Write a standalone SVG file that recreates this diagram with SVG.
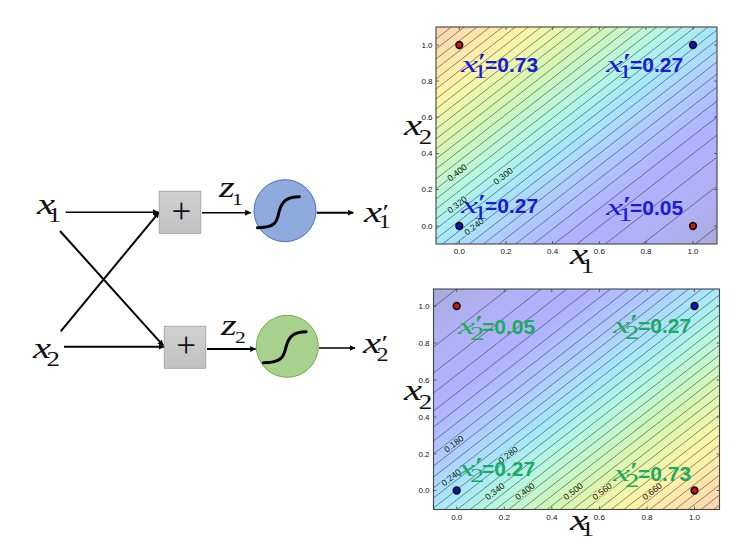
<svg xmlns="http://www.w3.org/2000/svg" xmlns:xlink="http://www.w3.org/1999/xlink" width="730" height="540" viewBox="0 0 730 540">
<style>
text{font-family:"Liberation Sans",Arial,sans-serif}
.m{font-family:"Liberation Serif","Times New Roman",serif;font-style:italic;font-size:30px;fill:#111}
.m .s{font-style:normal;font-size:20px}
.m .sz{font-style:normal;font-size:16px}
.m .sp{font-style:normal;font-size:18px}
.m .p{font-size:22px}
.q{font-family:"Liberation Serif","Times New Roman",serif;font-style:italic;font-size:24px}
.q .s{font-style:normal;font-size:18px}
.v{font-weight:700;font-size:21px}
.bl{fill:#1a1ad8}
.gr{fill:#1cab5e}
.t{font-size:8px;fill:#111;text-anchor:middle}
.cl{font-size:8.8px;fill:#111;text-anchor:middle;stroke-width:2.5px;paint-order:stroke;stroke-linejoin:round}
.frame{fill:none;stroke:#444;stroke-width:1.1}
.tick{fill:none;stroke:#444;stroke-width:.8}
.contour{fill:none;stroke:#222;stroke-width:.6;stroke-opacity:.85}
.red{fill:#e01010;stroke:#111;stroke-width:1.7}
.blue{fill:#1010d8;stroke:#111;stroke-width:1.7}
.box{fill:url(#gb);stroke:#a8a8a8;stroke-width:1}
.plus{font-family:"Liberation Serif",serif;font-size:35px;text-anchor:middle;fill:#111}
.sig{fill:none;stroke:#000;stroke-width:3;stroke-linecap:round}
.arr{fill:none;stroke:#000;stroke-width:2;marker-end:url(#ah)}
.thin{stroke-width:1.5}
</style>
<defs>
<marker id="ah" viewBox="0 0 6 6" refX="5.5" refY="3" markerWidth="6" markerHeight="6" markerUnits="userSpaceOnUse" orient="auto"><path d="M0,0L6,3L0,6z" fill="#000"/></marker>
<linearGradient id="gb" x1="0" y1="0" x2="0" y2="1"><stop offset="0" stop-color="#d0d0d0"/><stop offset="1" stop-color="#c2c2c2"/></linearGradient>
<linearGradient id="g1" gradientUnits="userSpaceOnUse" x1="436" y1="27" x2="647.4" y2="298">
<stop offset="0" stop-color="#fcd4b4"/><stop offset=".08" stop-color="#fde4ac"/><stop offset=".17" stop-color="#fbf6a8"/><stop offset=".29" stop-color="#d6f7b4"/><stop offset=".42" stop-color="#b4f6e4"/><stop offset=".5" stop-color="#a8e8fb"/><stop offset=".6" stop-color="#b0ccff"/><stop offset=".72" stop-color="#b0b2ff"/><stop offset=".9" stop-color="#b0b0f2"/><stop offset="1" stop-color="#aaaadc"/>
</linearGradient>
<linearGradient id="g2" xlink:href="#g1" href="#g1" gradientUnits="userSpaceOnUse" x1="648.6" y1="564.8" x2="433.5" y2="289"/>
<clipPath id="c1"><rect x="436" y="27" width="281" height="217"/></clipPath>
<clipPath id="c2"><rect x="433.5" y="289" width="286" height="220.5"/></clipPath>
</defs>

<g id="connectors">
<path class="arr thin" d="M65.7,212.3H158.5"/>
<path class="arr" d="M60.7,331.3L159,212.3"/>
<path class="arr" d="M60,231L163.3,345.7"/>
<path class="arr" d="M64,346.7H164"/>
<path class="arr thin" d="M202,212.7H250.7"/>
<path class="arr" d="M316.7,212.7H353.3"/>
<path class="arr" d="M207,349H255.7"/>
<path class="arr thin" d="M319,348H355"/>
</g>

<g id="input-x1"><text class="m" transform="translate(37,214) scale(1.35,1)">x<tspan class="s" x="8" y="8">1</tspan></text></g>
<g id="input-x2"><text class="m" transform="translate(33,358) scale(1.35,1)">x<tspan class="s" x="10" y="8">2</tspan></text></g>

<g id="sum-1"><rect class="box" x="159.3" y="191.3" width="41.4" height="42"/><text class="plus" x="181.3" y="223.3">+</text></g>
<g id="sum-2"><rect class="box" x="164.3" y="326.3" width="41.4" height="42"/><text class="plus" x="186" y="357.2">+</text></g>

<g id="label-z1"><text class="m" transform="translate(219,197) scale(1.35,1)">z<tspan class="sz" x="9.7" y="8">1</tspan></text></g>
<g id="label-z2"><text class="m" transform="translate(221,335) scale(1.35,1)">z<tspan class="sz" x="10.4" y="8">2</tspan></text></g>

<g id="sigmoid-1"><circle cx="285" cy="210.7" r="31" fill="#8faadc" stroke="#4472c4"/><path class="sig" d="M257.5,227.7C275,228 277,222 279,212C282,200 288,197 299.3,196.7"/></g>
<g id="sigmoid-2"><circle cx="287.3" cy="346.3" r="31" fill="#a9d18e" stroke="#70ad47"/><path class="sig" d="M263.5,362.7C281,363 284,357 286,347C289,335 295,332 306,331.7"/></g>

<g id="output-x1"><text class="m" transform="translate(364,222) scale(1.35,1)">x<tspan class="p" x="12.500" y="-3">′</tspan><tspan class="sp" x="10.700" y="6">1</tspan></text></g>
<g id="output-x2"><text class="m" transform="translate(363,353) scale(1.35,1)">x<tspan class="p" x="12.500" y="-3">′</tspan><tspan class="sp" x="10" y="8">2</tspan></text></g>

<g id="plot-top">
<rect x="436" y="27" width="281" height="217" fill="url(#g1)"/>
<path class="contour" clip-path="url(#c1)" d="M436,446l281,-219M436,405l281,-219M436,376l281,-219M436,354l281,-219M436,336l281,-219M436,320l281,-219M436,306l281,-219M436,293l281,-219M436,281l281,-219M436,270l281,-219M436,259l281,-219M436,249l281,-219M436,239l281,-219M436,229l281,-219M436,219l281,-219M436,209l281,-219M436,199l281,-219M436,189l281,-219M436,179l281,-219M436,169l281,-219M436,159l281,-219M436,149l281,-219M436,139l281,-219M436,129l281,-219M436,119l281,-219M436,109l281,-219M436,99l281,-219M436,89l281,-219M436,79l281,-219M436,69l281,-219M436,59l281,-219M436,49l281,-219M436,39l281,-219"/>
<rect class="frame" x="436" y="27" width="281" height="217"/>
<path class="tick" d="M459.3,244v-3M506,244v-3M552.6,244v-3M599.3,244v-3M646,244v-3M693,244v-3M459.3,27v3M506,27v3M552.6,27v3M599.3,27v3M646,27v3M693,27v3M436,45h3M436,81h3M436,117h3M436,153.500h3M436,189.500h3M436,226h3M717,45h-3M717,81h-3M717,117h-3M717,153.500h-3M717,189.500h-3M717,226h-3"/>
<g class="tl">
<text class="t" x="459.300" y="254">0.0</text><text class="t" x="506" y="254">0.2</text><text class="t" x="552.600" y="254">0.4</text><text class="t" x="599.300" y="254">0.6</text><text class="t" x="646" y="254">0.8</text><text class="t" x="693" y="254">1.0</text>
<text class="t" x="427" y="47.800">1.0</text><text class="t" x="427" y="83.800">0.8</text><text class="t" x="427" y="119.800">0.6</text><text class="t" x="427" y="156.300">0.4</text><text class="t" x="427" y="192.300">0.2</text><text class="t" x="427" y="228.800">0.0</text>
</g>
<text class="cl" stroke="#bcf5c8" transform="translate(459,175) rotate(-38)">0.400</text>
<text class="cl" stroke="#b0f5e8" transform="translate(505,178.500) rotate(-38)">0.300</text>
<text class="cl" stroke="#b0f5e8" transform="translate(459,207) rotate(-38)">0.320</text>
<text class="cl" stroke="#a8ecf2" transform="translate(476,229) rotate(-38)">0.240</text>
<circle class="red" cx="459.300" cy="45" r="3.300"/><circle class="blue" cx="693" cy="45" r="3.300"/><circle class="blue" cx="459.300" cy="226" r="3.300"/><circle class="red" cx="693" cy="226" r="3.300"/>
<text class="q bl" transform="translate(461,72) scale(1.6,1)">x<tspan x="9" y="-3">′</tspan><tspan class="s" x="7.500" y="6">1</tspan></text><text class="v bl" x="485" y="72">=0.73</text>
<text class="q bl" transform="translate(606,72) scale(1.6,1)">x<tspan x="9" y="-3">′</tspan><tspan class="s" x="7.500" y="6">1</tspan></text><text class="v bl" x="630" y="72">=0.27</text>
<text class="q bl" transform="translate(461,213) scale(1.6,1)">x<tspan x="9" y="-3">′</tspan><tspan class="s" x="7.500" y="6">1</tspan></text><text class="v bl" x="485" y="213">=0.27</text>
<text class="q bl" transform="translate(606,215) scale(1.6,1)">x<tspan x="9" y="-3">′</tspan><tspan class="s" x="7.500" y="6">1</tspan></text><text class="v bl" x="630" y="215">=0.05</text>
<text class="m" transform="translate(404,135) scale(1.35,1)">x<tspan class="s" x="11" y="9">2</tspan></text>
<text class="m" transform="translate(570,264) scale(1.35,1)">x<tspan class="s" x="8" y="9">1</tspan></text>
</g>

<g id="plot-bottom">
<rect x="433.500" y="289" width="286" height="220.500" fill="url(#g2)"/>
<path class="contour" clip-path="url(#c2)" d="M433.500,307l286,-223M433.500,347l286,-223M433.500,373l286,-223M433.500,393l286,-223M433.500,411l286,-223M433.500,427l286,-223M433.500,441l286,-223M433.500,454l286,-223M433.500,466l286,-223M433.500,477l286,-223M433.500,488l286,-223M433.500,498l286,-223M433.500,508l286,-223M433.500,518l286,-223M433.500,528l286,-223M433.500,538l286,-223M433.500,548l286,-223M433.500,558l286,-223M433.500,568l286,-223M433.500,578l286,-223M433.500,588l286,-223M433.500,598l286,-223M433.500,608l286,-223M433.500,618l286,-223M433.500,628l286,-223M433.500,638l286,-223M433.500,648l286,-223M433.500,658l286,-223M433.500,668l286,-223M433.500,678l286,-223M433.500,688l286,-223M433.500,698l286,-223M433.500,708l286,-223M433.500,718l286,-223M433.500,728l286,-223"/>
<rect class="frame" x="433.500" y="289" width="286" height="220.500"/>
<path class="tick" d="M456.700,509.500v-3M504.300,509.500v-3M551.800,509.500v-3M599.400,509.500v-3M647,509.500v-3M694.500,509.500v-3M456.700,289v3M504.300,289v3M551.800,289v3M599.400,289v3M647,289v3M694.500,289v3M433.500,306h3M433.500,343h3M433.500,380h3M433.500,417h3M433.500,454h3M433.500,490.500h3M719.500,306h-3M719.500,343h-3M719.500,380h-3M719.500,417h-3M719.500,454h-3M719.500,490.500h-3"/>
<g class="tl">
<text class="t" x="456.700" y="519.500">0.0</text><text class="t" x="504.300" y="519.500">0.2</text><text class="t" x="551.800" y="519.500">0.4</text><text class="t" x="599.400" y="519.500">0.6</text><text class="t" x="647" y="519.500">0.8</text><text class="t" x="694.500" y="519.500">1.0</text>
<text class="t" x="424" y="308.800">1.0</text><text class="t" x="424" y="345.800">0.8</text><text class="t" x="424" y="382.800">0.6</text><text class="t" x="424" y="419.800">0.4</text><text class="t" x="424" y="456.800">0.2</text><text class="t" x="424" y="493.300">0.0</text>
</g>
<text class="cl" stroke="#aed4ff" transform="translate(455.700,446.300) rotate(-38)">0.180</text>
<text class="cl" stroke="#a8e4fb" transform="translate(453,479.800) rotate(-38)">0.240</text>
<text class="cl" stroke="#acebf2" transform="translate(510,457.300) rotate(-38)">0.280</text>
<text class="cl" stroke="#b3f5e0" transform="translate(496.700,493.800) rotate(-38)">0.340</text>
<text class="cl" stroke="#bcf5c8" transform="translate(526.700,493.800) rotate(-38)">0.400</text>
<text class="cl" stroke="#d8f5b2" transform="translate(575,493.800) rotate(-38)">0.500</text>
<text class="cl" stroke="#eef6a9" transform="translate(604,493.800) rotate(-38)">0.560</text>
<text class="cl" stroke="#fde9a8" transform="translate(654,493.800) rotate(-38)">0.660</text>
<circle class="red" cx="456.700" cy="306" r="3.300"/><circle class="blue" cx="694.500" cy="306" r="3.300"/><circle class="blue" cx="456.700" cy="490.500" r="3.300"/><circle class="red" cx="694.500" cy="490.500" r="3.300"/>
<text class="q gr" transform="translate(458,334) scale(1.6,1)">x<tspan x="9" y="-3">′</tspan><tspan class="s" x="7.500" y="6">2</tspan></text><text class="v gr" x="482" y="334">=0.05</text>
<text class="q gr" transform="translate(613,333) scale(1.6,1)">x<tspan x="9" y="-3">′</tspan><tspan class="s" x="7.500" y="6">2</tspan></text><text class="v gr" x="638" y="333">=0.27</text>
<text class="q gr" transform="translate(458,476) scale(1.6,1)">x<tspan x="9" y="-3">′</tspan><tspan class="s" x="7.500" y="6">2</tspan></text><text class="v gr" x="482" y="476">=0.27</text>
<text class="q gr" transform="translate(613,481) scale(1.6,1)">x<tspan x="9" y="-3">′</tspan><tspan class="s" x="7.500" y="6">2</tspan></text><text class="v gr" x="638" y="481">=0.73</text>
<text class="m" transform="translate(404,399.500) scale(1.35,1)">x<tspan class="s" x="11" y="9">2</tspan></text>
<text class="m" transform="translate(570,530) scale(1.35,1)">x<tspan class="s" x="8" y="5.500">1</tspan></text>
</g>
</svg>
